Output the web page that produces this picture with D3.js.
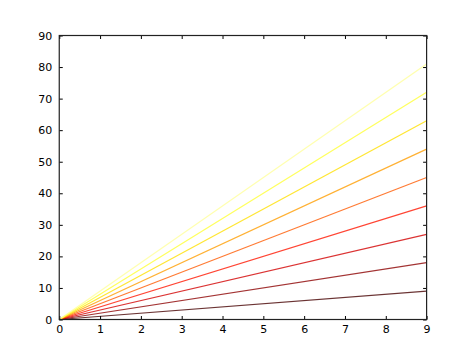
<!DOCTYPE html>
<html lang="en">
<head>
<meta charset="UTF-8">
<title>Lines</title>
<script src="https://cdnjs.cloudflare.com/ajax/libs/d3/7.8.5/d3.min.js"></script>
<style>
  body { margin: 0; background: #fff; }
  svg text { font-family: "DejaVu Sans", sans-serif; font-size: 11px; fill: #000; }
</style>
</head>
<body>
<svg id="chart"></svg>
<script>
// data: y = slope * x, sampled at the ends
const slopes = [1, 2, 3, 4, 5, 6, 7, 8, 9];
const xValues = [0, 9];
const xTicks = [0, 1, 2, 3, 4, 5, 6, 7, 8, 9];
const yTicks = [0, 10, 20, 30, 40, 50, 60, 70, 80, 90];

const width = 474, height = 355;
const margin = { left: 59.25, right: 474 - 426.6, top: 35.5, bottom: 355 - 319.5 };

const svg = d3.select('#chart').attr('width', width).attr('height', height);

const x = d3.scaleLinear().domain([0, 9]).range([margin.left, width - margin.right]);
const y = d3.scaleLinear().domain([0, 90]).range([height - margin.bottom, margin.top]);

// matplotlib "hot" colormap
function hot(t) {
  const r = Math.min(1, Math.max(0, t / 0.365079));
  const g = Math.min(1, Math.max(0, (t - 0.365079) / (0.746032 - 0.365079)));
  const b = Math.min(1, Math.max(0, (t - 0.746032) / (1 - 0.746032)));
  return d3.rgb(r * 255, g * 255, b * 255);
}

const line = d3.line().x(d => x(d[0])).y(d => y(d[1]));

svg.append('g')
  .selectAll('path')
  .data(slopes)
  .join('path')
  .attr('d', k => line(xValues.map(v => [v, k * v])))
  .attr('fill', 'none')
  .attr('stroke', k => hot(k / 10))
  .attr('stroke-opacity', 0.8)
  .attr('stroke-width', 1.25);

const tickLen = 3.5;

// bottom + top axes
svg.append('g')
  .attr('transform', `translate(0,${y(0)})`)
  .call(d3.axisBottom(x).tickValues(xTicks).tickFormat(d3.format('d')).tickSizeInner(-tickLen).tickSizeOuter(0).tickPadding(6))
  .call(g => g.select('.domain').remove());
svg.append('g')
  .attr('transform', `translate(0,${y(90)})`)
  .call(d3.axisTop(x).tickValues(xTicks).tickSizeInner(-tickLen).tickSizeOuter(0).tickFormat(''))
  .call(g => g.select('.domain').remove());

// left + right axes
svg.append('g')
  .attr('transform', `translate(${x(0)},0)`)
  .call(d3.axisLeft(y).tickValues(yTicks).tickFormat(d3.format('d')).tickSizeInner(-tickLen).tickSizeOuter(0).tickPadding(7))
  .call(g => g.select('.domain').remove());
svg.append('g')
  .attr('transform', `translate(${x(9)},0)`)
  .call(d3.axisRight(y).tickValues(yTicks).tickSizeInner(-tickLen).tickSizeOuter(0).tickFormat(''))
  .call(g => g.select('.domain').remove());

svg.selectAll('.tick line').attr('stroke', '#000');
svg.selectAll('.tick text').style('font-size', '11px').style('font-family', '"DejaVu Sans", sans-serif');

// frame
svg.append('rect')
  .attr('x', x(0)).attr('y', y(90))
  .attr('width', x(9) - x(0)).attr('height', y(0) - y(90))
  .attr('fill', 'none').attr('stroke', '#222').attr('stroke-width', 1.2);
</script>
</body>
</html>
